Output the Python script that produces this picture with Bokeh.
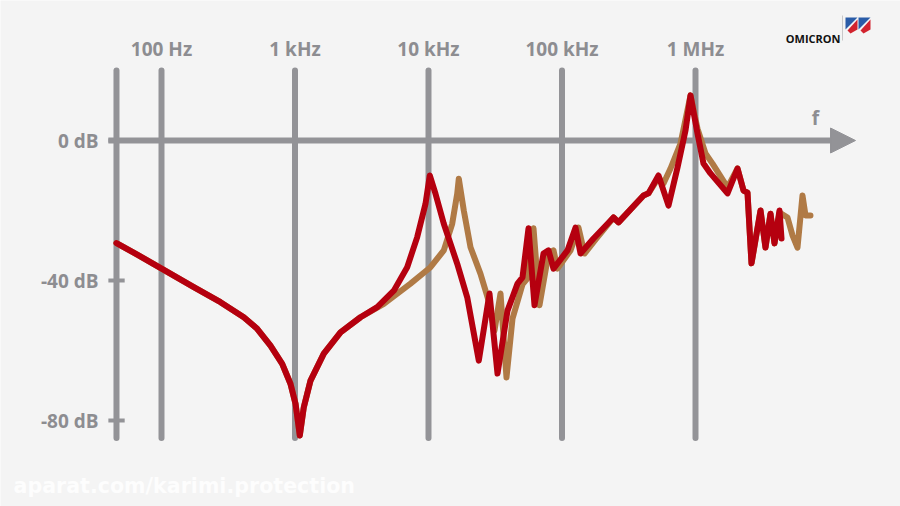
from bokeh.plotting import figure
from bokeh.models import Arrow, NormalHead
from bokeh.core.properties import value
from bokeh.embed import file_html
from bokeh.resources import INLINE

# ---------------- data ----------------
decade_f = [100, 1e3, 1e4, 1e5, 1e6]
decade_labels = ["100 Hz", "1 kHz", "10 kHz", "100 kHz", "1 MHz"]
db_ticks = [0, -40, -80]
db_labels = ["0 dB", "-40 dB", "-80 dB"]

red_f = [46, 65.8, 101, 174.5, 276.7, 413.5, 521, 655, 802, 925, 1009, 1086, 1164, 1307,
         1643, 2192, 3095, 4128, 5498, 6925, 8231, 9495, 10226, 11282, 13020, 16406,
         19497, 23816, 28640, 32880, 39070, 46420, 50590, 56110, 62230, 72680, 79240,
         86370, 109950, 126200, 137600, 172200, 243100, 265000, 407900, 444500, 528200,
         627900, 733200, 841900, 917500, 1035000, 1148000, 1295000, 1737000, 2064000,
         2289000, 2452000, 2627000, 3069000, 3344000, 3646000, 3906000, 4258000, 4408000]
red_db = [-29.3, -32.6, -36.7, -41.9, -46.2, -50.5, -53.8, -58.6, -63.8, -69.5, -75.2,
          -84.3, -76.2, -68.6, -60.9, -54.8, -50.5, -47.6, -42.9, -36.2, -27.6, -18.1,
          -10.0, -15.2, -23.8, -35.2, -44.8, -62.9, -43.7, -66.6, -48.6, -40.9, -39.1,
          -25.1, -47.1, -32.3, -31.4, -36.6, -31.4, -24.9, -32.3, -28.0, -22.0, -23.4,
          -15.7, -15.1, -10.0, -18.6, -7.7, 2.9, 12.9, 2.0, -6.6, -9.4, -15.1, -8.0,
          -14.3, -14.9, -35.1, -20.0, -30.6, -20.9, -29.4, -20.0, -28.0]

brown_f = [46, 65.8, 101, 174.5, 276.7, 413.5, 521, 655, 802, 925, 1009, 1086, 1164, 1307,
           1643, 2192, 3095, 4626, 7333, 10352, 13020, 15050, 16406, 16866, 18383, 20640,
           24520, 28140, 31220, 34620, 38390, 42580, 50590, 55140, 61170, 67840, 79240,
           86370, 92530, 115800, 132900, 147400, 181300, 243100, 265000, 407900, 444500,
           528200, 575900, 649700, 772000, 917500, 1035000, 1188000, 1341000, 1737000,
           2064000, 2289000, 2452000, 2627000, 3069000, 3344000, 3646000, 3906000,
           4258000, 4888000, 5329000, 5808000, 6330000, 6668000, 7265000]
brown_db = [-29.3, -32.6, -36.7, -41.9, -46.2, -50.5, -53.8, -58.6, -63.8, -69.5, -75.2,
            -84.3, -76.2, -68.6, -60.9, -54.8, -50.5, -46.7, -40.9, -36.2, -31.4, -23.8,
            -15.2, -10.9, -20.0, -30.5, -38.1, -45.7, -54.3, -43.7, -67.7, -50.9, -41.1,
            -39.4, -25.1, -47.1, -32.3, -31.4, -36.6, -31.4, -24.9, -32.3, -28.0, -22.0,
            -23.4, -15.7, -15.1, -10.6, -12.3, -8.0, -0.9, 12.9, 3.4, -3.7, -6.6, -13.4,
            -8.0, -14.3, -14.9, -35.1, -20.0, -30.6, -20.9, -29.4, -20.6, -22.0, -27.1,
            -30.6, -15.7, -21.4, -21.4]

# ---------------- styling / geometry ----------------
BG = "#f4f4f4"
GRAY = "#939397"
TXT = "#8d8d91"
RED = "#b5000f"
BROWN = "#b07a45"
FONT = value("Open Sans")

AXIS_F = 46          # frequency of the left (dB) axis line
LINE_TOP_DB = 20
LINE_BOTTOM_DB = -85
TICK_F0, TICK_F1 = 40, 53
ZERO_LINE_END_F = 1.12e7
ARROW_TIP_F = 1.58e7
F_LABEL_F = 7.9e6

# pixel helpers (133.5 px per decade, 3.5 px per dB)
def px2f(px):
    return 10 ** (2 + (px - 161) / 133.5)

def py2db(py):
    return (140 - py) / 3.5

W, H = 900, 506
p = figure(width=W, height=H, x_axis_type="log",
           x_range=(px2f(0), px2f(W)), y_range=(py2db(H), py2db(0)),
           output_backend="svg", toolbar_location=None, min_border=0,
           x_axis_location=None, y_axis_location=None,
           background_fill_color=BG, border_fill_color=BG, outline_line_color=None)
p.grid.visible = False

# vertical decade lines + left axis
vx = decade_f + [AXIS_F]
p.segment(x0=vx, y0=[LINE_BOTTOM_DB] * len(vx), x1=vx, y1=[LINE_TOP_DB] * len(vx),
          line_width=6, line_color=GRAY, line_cap="round")
# dB ticks
p.segment(x0=[TICK_F0] * 3, y0=db_ticks, x1=[TICK_F1] * 3, y1=db_ticks,
          line_width=4, line_color=GRAY)
# 0 dB line with arrow head
p.segment(x0=[TICK_F0], y0=[0], x1=[ZERO_LINE_END_F], y1=[0], line_width=6, line_color=GRAY)
p.add_layout(Arrow(end=NormalHead(size=25, fill_color=GRAY, line_color=GRAY, line_width=1),
                   x_start=ZERO_LINE_END_F * 0.9, y_start=0, x_end=ARROW_TIP_F, y_end=0,
                   line_alpha=0, line_width=1))

# curves
p.line(brown_f, brown_db, line_width=6, line_color=BROWN, line_join="round", line_cap="round")
p.line(red_f, red_db, line_width=6, line_color=RED, line_join="round", line_cap="round")

# labels
p.text(x=decade_f, y=[LINE_TOP_DB] * 5, text=decade_labels, text_align="center",
       text_baseline="alphabetic", y_offset=-22, text_font=FONT, text_font_style="bold",
       text_font_size="19px", text_color=TXT)
p.text(x=[AXIS_F] * 3, y=db_ticks, text=db_labels, text_align="right",
       text_baseline="alphabetic", x_offset=-18, y_offset=0, text_font=FONT,
       text_font_style="bold", text_font_size="19px", text_color=TXT)
p.text(x=[F_LABEL_F], y=[0], text=["f"], text_align="center", text_baseline="alphabetic",
       y_offset=-23, text_font=FONT, text_font_style="bold", text_font_size="19px",
       text_color=TXT)

# OMICRON logo
p.text(x=[px2f(840)], y=[py2db(38)], text=["OMICRON"], text_align="right",
       text_baseline="alphabetic", text_font=FONT, text_font_style="bold",
       text_font_size="11px", text_color="#111111")
p.segment(x0=[px2f(842)], y0=[py2db(15)], x1=[px2f(842)], y1=[py2db(40)],
          line_width=1, line_color="#c8c8c8")
blue_xs, blue_ys, red_xs, red_ys = [], [], [], []
for x0 in (845, 858):
    blue_xs.append([px2f(x0), px2f(x0 + 12), px2f(x0)])
    blue_ys.append([py2db(17), py2db(17), py2db(29)])
    red_xs.append([px2f(x0 + 12), px2f(x0 + 12), px2f(x0 + 5), px2f(x0 + 2)])
    red_ys.append([py2db(19), py2db(29), py2db(33), py2db(30)])
p.patches(blue_xs, blue_ys, fill_color="#2a5ca8", line_color=None)
p.patches(red_xs, red_ys, fill_color="#d2232e", line_color=None)

# watermark
p.text(x=[px2f(13)], y=[py2db(485)], text=["aparat.com/karimi.protection"],
       text_align="left", text_baseline="alphabetic", text_font=value("DejaVu Sans"),
       text_font_style="bold", text_font_size="20.6px", text_color="#ffffff", text_alpha=0.85)

html = file_html(p, INLINE)
html = html.replace("<body>", '<body style="background-color:%s;margin:0;">' % BG, 1)
open("out.html", "w").write(html)
